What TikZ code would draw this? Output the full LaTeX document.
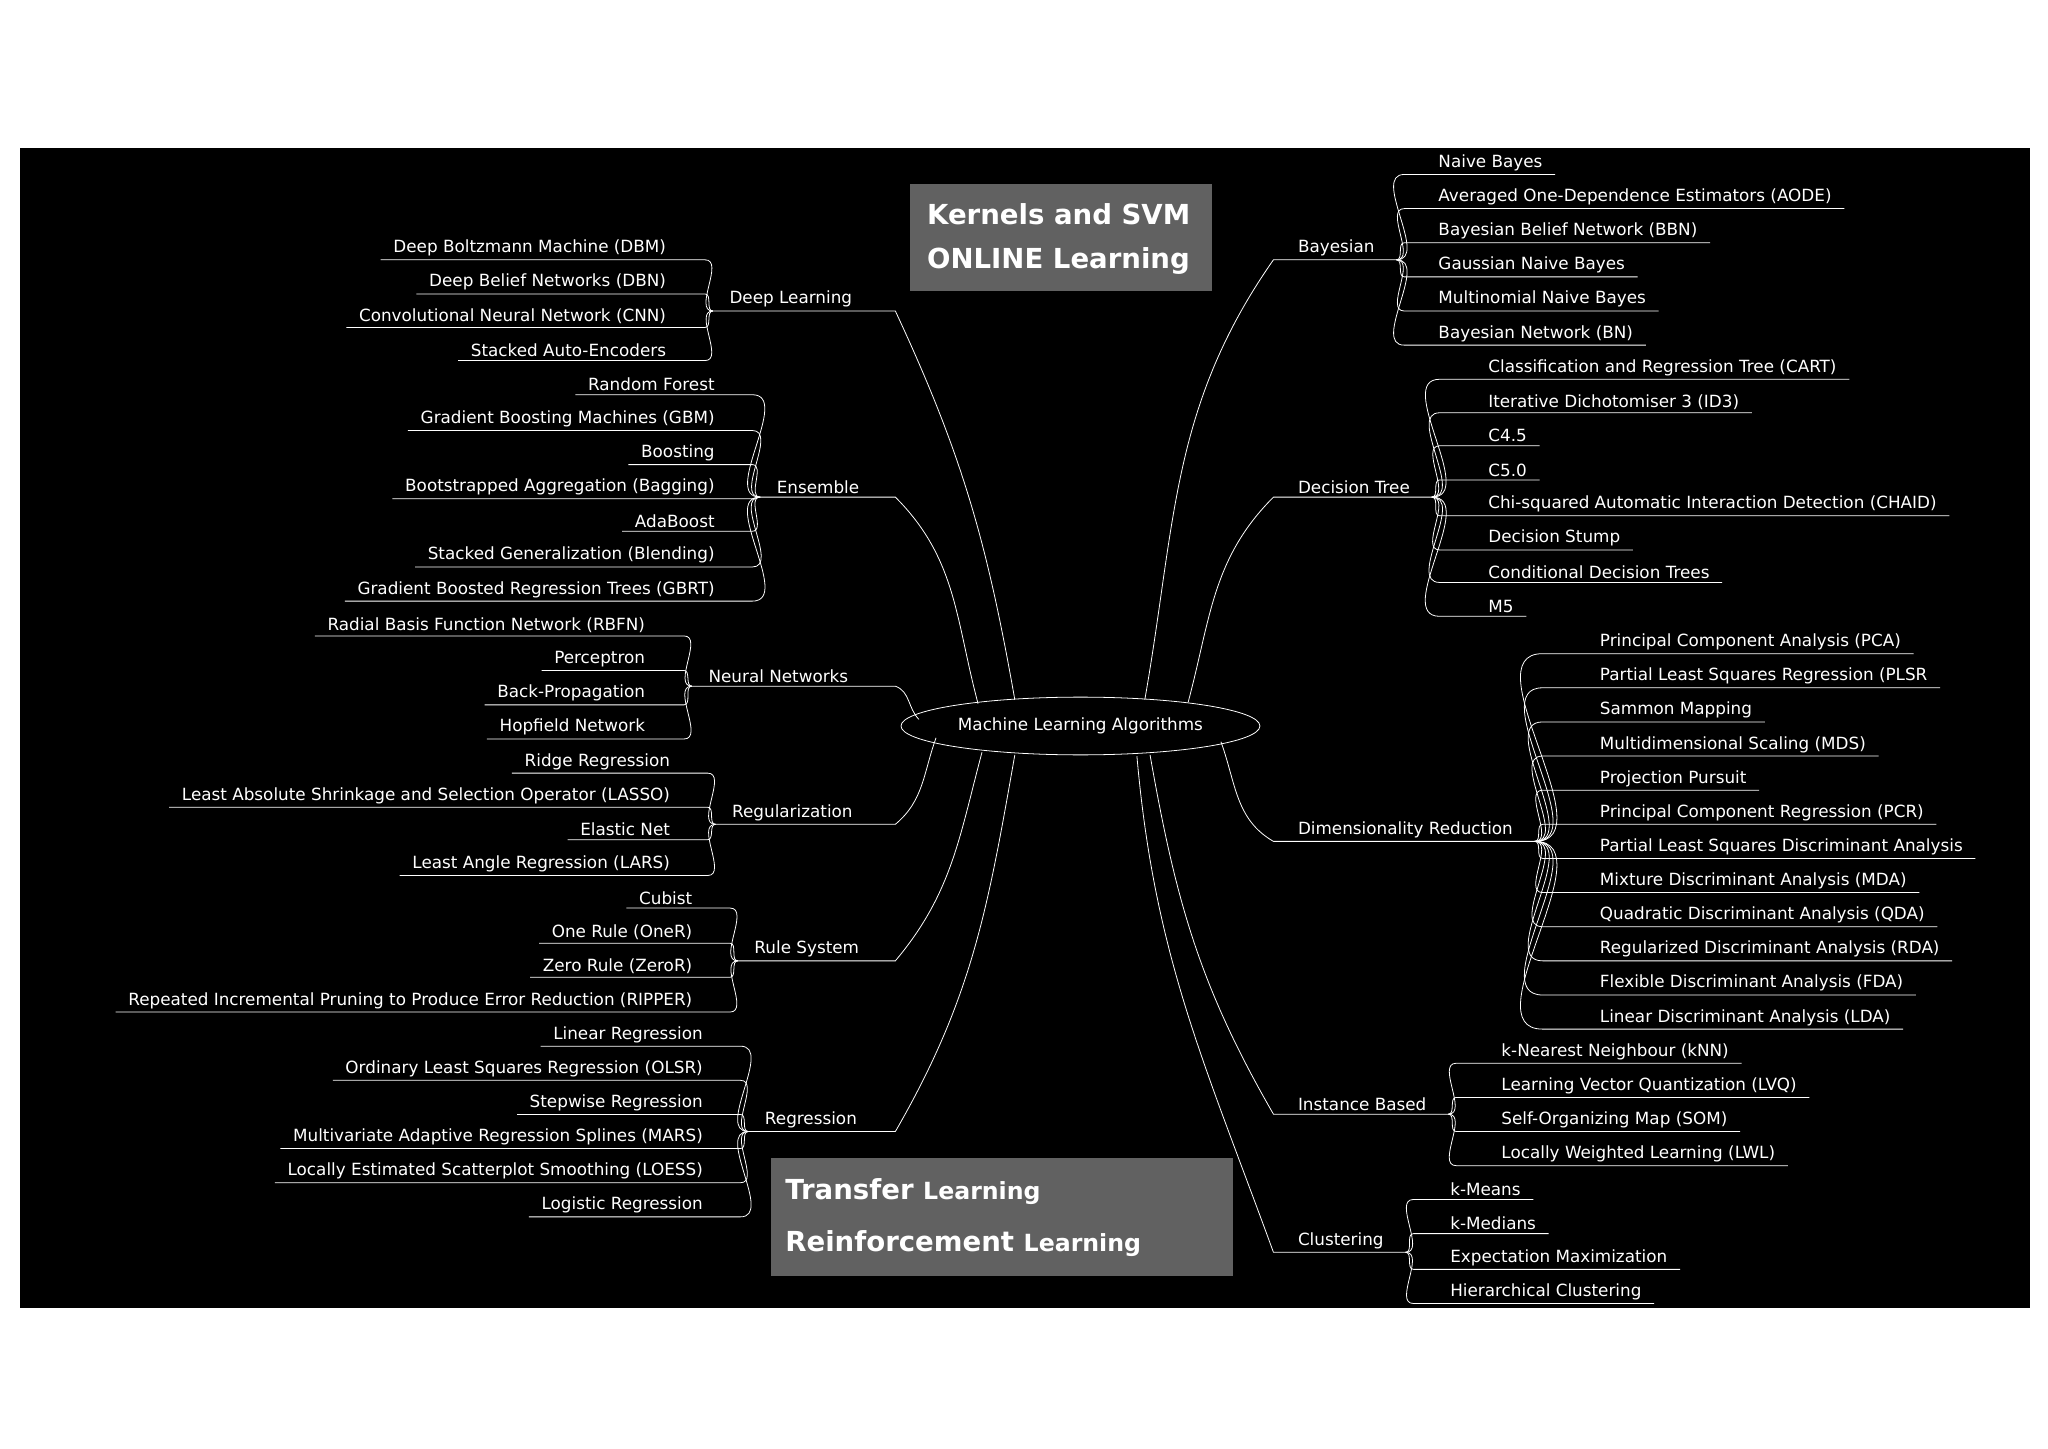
\documentclass[tikz,border=0pt]{standalone}
\usepackage{fontspec}
\setmainfont{DejaVu Sans}
\usetikzlibrary{shapes.geometric}
\begin{document}
\begin{tikzpicture}[x=1pt,y=-1pt,
  lf/.style={text=white,font=\fontsize{12.8}{14}\selectfont,inner sep=2.5pt},
  br/.style={text=white,font=\fontsize{12.8}{14}\selectfont,inner sep=2.5pt},
  ln/.style={draw=white,line width=0.6pt},
  gbox/.style={fill=black!62,text=white,font=\bfseries\fontsize{21}{28}\selectfont,align=left,inner sep=0pt}]
\useasboundingbox (0,0) rectangle (1560,1103);
\fill[white] (0,0) rectangle (1560,1103);
\fill[black] (15,113) rectangle (1546,996);
\node[draw=white,ln,ellipse,minimum width=255pt,minimum height=44pt,text=white,font=\fontsize{12.8}{14}\selectfont] (C) at (823,553) {Machine Learning Algorithms};
\fill[black!62] (693,140) rectangle (923,222);
\node[gbox,anchor=west] (k1) at (706,163) {Kernels and SVM};
\node[gbox,anchor=west] (k2) at (706,199) {ONLINE Learning};
\fill[black!62] (587,882) rectangle (939,972);
\node[gbox,anchor=west] (t1) at (598,908) {Transfer {\fontsize{18}{24}\selectfont Learning}};
\node[gbox,anchor=west] (t2) at (598,947) {Reinforcement {\fontsize{18}{24}\selectfont Learning}};
\newcommand{\leftgrp}[8]{%
  \node[br,anchor=west] (#1) at (#3,#4) {#2};
  \coordinate (#1s) at ([xshift=-10pt]#1.south west);
  \coordinate (#1e) at (682,0 |- #1.south);
  \draw[ln] (#1s) -- (#1e) to[out=#8,in=#6] (#7);
  \foreach \yy/\txt [count=\i] in {#5} {
    \node[lf,anchor=east] (#1l\i) at (\xr,\yy) {\txt};
    \draw[ln] ([xshift=-7pt]#1l\i.south west) -- ([xshift=-6pt]#1l\i.south -| #1s) to[out=0,in=180] (#1s);
  }}
\newcommand{\rightgrp}[8]{%
  \node[br,anchor=west] (#1) at (986,#4) {#2};
  \coordinate (#1s) at ([xshift=-16pt]#1.south west);
  \coordinate (#1e) at ([xshift=#3]#1.south east);
  \draw[ln] (#1e) -- (#1s) to[out=#6,in=#8] (#7);
  \foreach \yy/\txt [count=\i] in {#5} {
    \node[lf,anchor=west] (#1l\i) at (\xr,\yy) {\txt};
    \draw[ln] ([xshift=7pt]#1l\i.south east) -- ([xshift=6pt]#1l\i.south -| #1e) to[out=180,in=0] (#1e);
  }}
\def\xr{510}
\leftgrp{dl}{Deep Learning}{553}{228}{189/{Deep Boltzmann Machine (DBM)},215/{Deep Belief Networks (DBN)},241/{Convolutional Neural Network (CNN)},267/{Stacked Auto-Encoders}}{100}{773,533}{-65}
\def\xr{547}
\leftgrp{en}{Ensemble}{589}{371}{293/{Random Forest},319/{Gradient Boosting Machines (GBM)},345/{Boosting},371/{Bootstrapped Aggregation (Bagging)},397/{AdaBoost},423/{Stacked Generalization (Blending)},449/{Gradient Boosted Regression Trees (GBRT)}}{105}{745,536}{-45}
\def\xr{494}
\leftgrp{nn}{Neural Networks}{537}{515}{476/{Radial Basis Function Network (RBFN)},502/{Perceptron},528/{Back-Propagation},554/{Hopfield Network}}{135}{700,548}{-20}
\def\xr{513}
\leftgrp{rg}{Regularization}{555}{619}{580/{Ridge Regression},606/{Least Absolute Shrinkage and Selection Operator (LASSO)},632/{Elastic Net},658/{Least Angle Regression (LARS)}}{-110}{713,562}{40}
\def\xr{530}
\leftgrp{rs}{Rule System}{572}{723}{684/{Cubist},710/{One Rule (OneR)},736/{Zero Rule (ZeroR)},762/{Repeated Incremental Pruning to Produce Error Reduction (RIPPER)}}{-105}{748,573}{50}
\def\xr{538}
\leftgrp{re}{Regression}{580}{853}{788/{Linear Regression},814/{Ordinary Least Squares Regression (OLSR)},840/{Stepwise Regression},866/{Multivariate Adaptive Regression Splines (MARS)},892/{Locally Estimated Scatterplot Smoothing (LOESS)},918/{Logistic Regression}}{-100}{773,575}{60}
\def\xr{1093}
\rightgrp{ba}{Bayesian}{14pt}{189}{124/{Naive Bayes},150/{Averaged One-Dependence Estimators (AODE)},176/{Bayesian Belief Network (BBN)},202/{Gaussian Naive Bayes},228/{Multinomial Naive Bayes},254/{Bayesian Network (BN)}}{-125}{872,533}{80}
\def\xr{1131}
\rightgrp{dt}{Decision Tree}{14pt}{371}{280/{Classification and Regression Tree (CART)},306/{Iterative Dichotomiser 3 (ID3)},332/{C4.5},358/{C5.0},384/{Chi-squared Automatic Interaction Detection (CHAID)},410/{Decision Stump},436/{Conditional Decision Trees},462/{M5}}{-135}{905,535}{75}
\def\xr{1216}
\rightgrp{dr}{Dimensionality Reduction}{14pt}{632}{489/{Principal Component Analysis (PCA)},515/{Partial Least Squares Regression (PLSR},541/{Sammon Mapping},567/{Multidimensional Scaling (MDS)},593/{Projection Pursuit},619/{Principal Component Regression (PCR)},645/{Partial Least Squares Discriminant Analysis},671/{Mixture Discriminant Analysis (MDA)},697/{Quadratic Discriminant Analysis (QDA)},723/{Regularized Discriminant Analysis (RDA)},749/{Flexible Discriminant Analysis (FDA)},775/{Linear Discriminant Analysis (LDA)}}{150}{930,565}{-70}
\def\xr{1141}
\rightgrp{ib}{Instance Based}{14pt}{841}{801/{k-Nearest Neighbour (kNN)},827/{Learning Vector Quantization (LVQ)},853/{Self-Organizing Map (SOM)},879/{Locally Weighted Learning (LWL)}}{120}{876,575}{-80}
\def\xr{1102}
\rightgrp{cl}{Clustering}{14pt}{945}{906/{k-Means},932/{k-Medians},958/{Expectation Maximization},984/{Hierarchical Clustering}}{110}{866,576}{-85}
\end{tikzpicture}
\end{document}
